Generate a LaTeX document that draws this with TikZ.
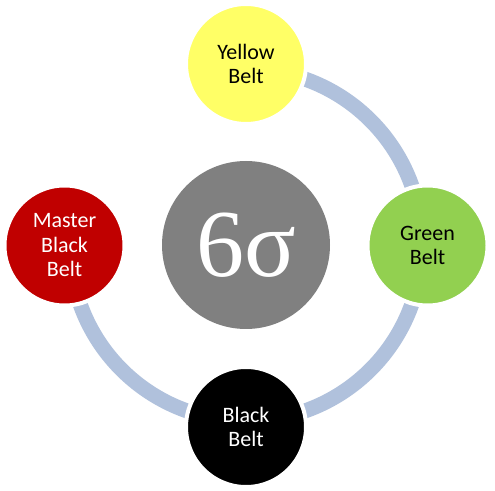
\documentclass[tikz,border=0pt]{standalone}
\usepackage{fontspec}
\setmainfont{Carlito}
\newfontfamily\sixfont{Liberation Serif}
\definecolor{ringblue}{HTML}{B0C1DC}
\definecolor{beltyellow}{HTML}{FFFF66}
\definecolor{beltgreen}{HTML}{92D050}
\definecolor{beltred}{HTML}{C00000}
\definecolor{centergray}{HTML}{808080}
\begin{document}
\begin{tikzpicture}[x=1pt,y=1pt,
  belt/.style={circle, minimum size=120pt, inner sep=0pt, draw=white, line width=4pt,
    align=center, font=\fontsize{22}{24.5}\selectfont},
  ringarc/.style={draw=ringblue, line width=15pt}]
\useasboundingbox[fill=white] (0,0) rectangle (495,490);
\coordinate (O) at (246,245);
\coordinate (ry) at (246,421);
\coordinate (rg) at (422,245);
\coordinate (rb) at (246,69);
\coordinate (rr) at (70,245);
\draw[ringarc] (ry) to[out=0,in=90] (rg);
\draw[ringarc] (rg) to[out=-90,in=0] (rb);
\draw[ringarc] (rb) to[out=180,in=-90] (rr);
\node[circle, fill=centergray, minimum size=168pt, inner sep=0pt, text=white,
  font=\sixfont\fontsize{96}{96}\selectfont] (six) at (O) {6σ};
\node[belt, fill=beltyellow, text=black] (yellow) at (246,426) {Yellow\\Belt};
\node[belt, fill=beltgreen, text=black] (green) at (427.5,244.5) {Green\\Belt};
\node[belt, fill=black, text=white] (blackb) at (246,63) {Black\\Belt};
\node[belt, fill=beltred, text=white] (master) at (64.5,244.5) {Master\\Black\\Belt};
\end{tikzpicture}
\end{document}
